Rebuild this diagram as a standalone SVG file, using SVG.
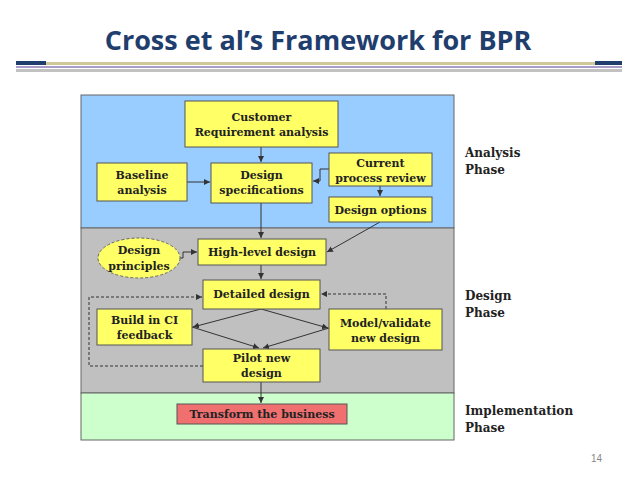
<svg xmlns="http://www.w3.org/2000/svg" width="638" height="478" viewBox="0 0 638 478">
<defs>
<style>
.b{fill:#ffff66;stroke:#555;stroke-width:1}
.t{font-family:"DejaVu Serif",serif;font-weight:bold;font-size:11px;fill:#222;text-anchor:middle}
.p{font-family:"DejaVu Serif",serif;font-weight:bold;font-size:12px;fill:#222}
.c{stroke:#333;stroke-width:1;fill:none}
.d{stroke:#333;stroke-width:1;fill:none;stroke-dasharray:3,2}
</style>
<marker id="a" markerWidth="7" markerHeight="7" refX="6" refY="3" orient="auto" markerUnits="userSpaceOnUse"><path d="M0,0L6,3L0,6z" fill="#333"/></marker>
</defs>
<rect width="638" height="478" fill="#fff"/>
<text x="318" y="50" font-family="'Open Sans','Liberation Sans',sans-serif" font-weight="bold" font-size="27" fill="#1f3e6e" text-anchor="middle">Cross et al’s Framework for BPR</text>
<rect x="16" y="61" width="30" height="4" fill="#1f3e6e"/>
<rect x="46" y="62" width="549" height="3" fill="#cfc79a"/>
<rect x="595" y="61" width="27" height="4" fill="#1f3e6e"/>
<rect x="16" y="66" width="606" height="2" fill="#a89cc8"/>
<rect x="16" y="69" width="606" height="3" fill="#999" opacity="0.6"/>
<g id="panels">
<rect x="81" y="95" width="373" height="133" fill="#99ccff" stroke="#666"/>
<rect x="81" y="228" width="373" height="165" fill="#c0c0c0" stroke="#666"/>
<rect x="81" y="393" width="373" height="47" fill="#ccffcc" stroke="#666"/>
</g>
<g id="connectors">
<line class="c" x1="261" y1="147" x2="261" y2="162" marker-end="url(#a)"/>
<line class="c" x1="187" y1="182" x2="210" y2="182" marker-end="url(#a)"/>
<polyline class="c" points="329,169 320,169 320,181 313,181" marker-end="url(#a)"/>
<line class="c" x1="380" y1="186" x2="380" y2="196" marker-end="url(#a)"/>
<line class="c" x1="261" y1="203" x2="261" y2="238" marker-end="url(#a)"/>
<line class="c" x1="380" y1="222" x2="327" y2="252" marker-end="url(#a)"/>
<polyline class="c" points="180,258 183,258 183,252 197,252" marker-end="url(#a)"/>
<line class="c" x1="261" y1="265" x2="261" y2="279" marker-end="url(#a)"/>
<line class="c" x1="261" y1="309" x2="193" y2="327" marker-end="url(#a)"/>
<line class="c" x1="261" y1="309" x2="328" y2="328" marker-end="url(#a)"/>
<line class="c" x1="192" y1="327" x2="259" y2="348" marker-end="url(#a)"/>
<line class="c" x1="329" y1="328" x2="263" y2="348" marker-end="url(#a)"/>
<polyline class="d" points="203,366 89,366 89,297 202,297" marker-end="url(#a)"/>
<polyline class="d" points="386,309 386,294 321,294" marker-end="url(#a)"/>
<line class="c" x1="261" y1="382" x2="261" y2="403" marker-end="url(#a)"/>
</g>
<g id="customer"><rect class="b" x="185" y="101" width="153" height="46"/><text class="t" x="261.5" y="121">Customer</text><text class="t" x="261.5" y="136">Requirement analysis</text></g>
<g id="baseline"><rect class="b" x="97" y="163" width="90" height="38"/><text class="t" x="142" y="179">Baseline</text><text class="t" x="142" y="194">analysis</text></g>
<g id="spec"><rect class="b" x="211" y="163" width="101" height="40"/><text class="t" x="261.5" y="179">Design</text><text class="t" x="261.5" y="194">specifications</text></g>
<g id="current"><rect class="b" x="329" y="153" width="103" height="33"/><text class="t" x="380.5" y="167">Current</text><text class="t" x="380.5" y="182">process review</text></g>
<g id="options"><rect class="b" x="329" y="197" width="103" height="25"/><text class="t" x="380.5" y="214">Design options</text></g>
<g id="principles"><ellipse cx="139" cy="258" rx="41" ry="20" fill="#ffff66" stroke="#666" stroke-dasharray="3,2"/><text class="t" x="139" y="254">Design</text><text class="t" x="139" y="270">principles</text></g>
<g id="highlevel"><rect class="b" x="198" y="239" width="128" height="26"/><text class="t" x="262" y="256">High-level design</text></g>
<g id="detailed"><rect class="b" x="203" y="280" width="117" height="29"/><text class="t" x="261.5" y="298">Detailed design</text></g>
<g id="buildci"><rect class="b" x="97" y="309" width="95" height="36"/><text class="t" x="144.5" y="324">Build in CI</text><text class="t" x="144.5" y="339">feedback</text></g>
<g id="model"><rect class="b" x="329" y="309" width="113" height="41"/><text class="t" x="385.5" y="327">Model/validate</text><text class="t" x="385.5" y="342">new design</text></g>
<g id="pilot"><rect class="b" x="203" y="349" width="117" height="33"/><text class="t" x="261.5" y="362">Pilot new</text><text class="t" x="261.5" y="377">design</text></g>
<g id="transform"><rect x="177" y="404" width="170" height="20" fill="#f07070" stroke="#555"/><text class="t" x="262" y="418">Transform the business</text></g>
<g id="labels">
<text class="p" x="465" y="157">Analysis</text><text class="p" x="465" y="174">Phase</text>
<text class="p" x="465" y="300">Design</text><text class="p" x="465" y="317">Phase</text>
<text class="p" x="465" y="415">Implementation</text><text class="p" x="465" y="432">Phase</text>
</g>
<text x="602" y="462" font-family="'Liberation Sans',sans-serif" font-size="10" fill="#888" text-anchor="end">14</text>
</svg>
